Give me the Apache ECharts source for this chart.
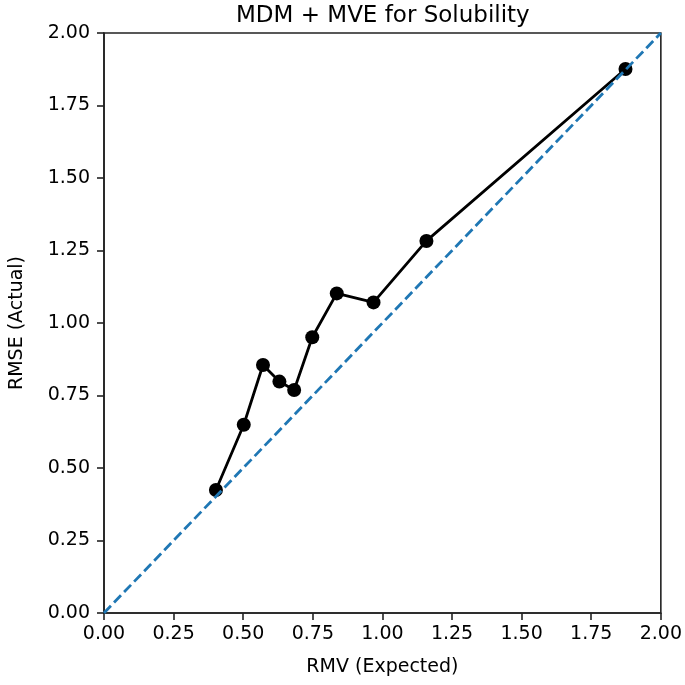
<!DOCTYPE html>
<html>
<head>
<meta charset="utf-8">
<script src="https://cdn.jsdelivr.net/npm/echarts@6/dist/echarts.min.js"></script>
<style>
html,body{margin:0;padding:0;background:#fff;}
#chart{width:685px;height:685px;}
</style>
</head>
<body>
<div id="chart"></div>
<script>
const titleText = 'MDM + MVE for Solubility';
const xName = 'RMV (Expected)';
const yName = 'RMSE (Actual)';
const rmv  = [0.402, 0.502, 0.571, 0.630, 0.683, 0.748, 0.836, 0.968, 1.158, 1.873];
const rmse = [0.424, 0.649, 0.855, 0.798, 0.769, 0.951, 1.102, 1.071, 1.283, 1.876];
const idealX = [0, 2];
const idealY = [0, 2];
const axisMin = 0, axisMax = 2, tickStep = 0.25;

const font = 'DejaVu Sans';
const chart = echarts.init(document.getElementById('chart'), null, {renderer: 'canvas'});
const axisCommon = {
  type: 'value', min: axisMin, max: axisMax, interval: tickStep,
  nameLocation: 'middle',
  nameTextStyle: {fontFamily: font, fontSize: 19, color: '#000'},
  axisLine: {show: true, onZero: false, lineStyle: {color: '#222', width: 1.6}},
  axisTick: {show: true, inside: false, length: 7, lineStyle: {color: '#222', width: 1.6}},
  axisLabel: {fontFamily: font, fontSize: 19, color: '#000', formatter: v => v.toFixed(2)},
  splitLine: {show: false}
};
chart.setOption({
  animation: false,
  title: {
    text: titleText, left: 231, top: 0,
    textStyle: {fontFamily: font, fontSize: 23, fontWeight: 'normal', color: '#000'}
  },
  grid: {left: 98, right: 22, top: 33, bottom: 72, show: true, borderColor: '#222', borderWidth: 1.6, containLabel: false},
  xAxis: Object.assign({}, axisCommon, {name: xName, nameGap: 45, axisLabel: Object.assign({}, axisCommon.axisLabel, {margin: 12})}),
  yAxis: Object.assign({}, axisCommon, {name: yName, nameGap: 77, axisLabel: Object.assign({}, axisCommon.axisLabel, {margin: 14})}),
  series: [
    {
      type: 'line', data: rmv.map((x, i) => [x, rmse[i]]),
      symbol: 'circle', symbolSize: 14,
      lineStyle: {color: '#000', width: 2.8},
      itemStyle: {color: '#000'},
      z: 2
    },
    {
      type: 'line', data: idealX.map((x, i) => [x, idealY[i]]),
      symbol: 'none',
      lineStyle: {color: '#1f77b4', width: 2.8, type: [10, 4.5]},
      z: 3
    }
  ]
});
</script>
</body>
</html>
